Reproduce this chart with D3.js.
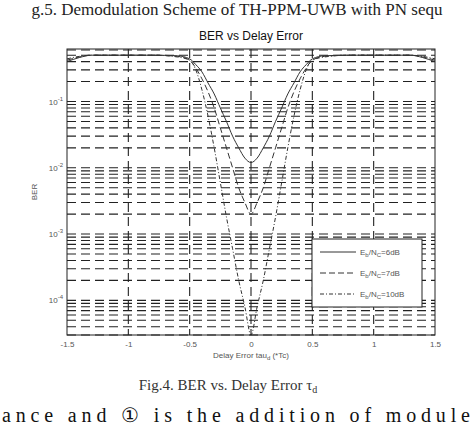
<!DOCTYPE html>
<html><head><meta charset="utf-8">
<script src="https://cdn.jsdelivr.net/npm/d3@7"></script>
<style>body{margin:0;background:#fff}svg{display:block}</style>
</head><body>
<svg id="c" width="474" height="428"></svg>
<script>
// delay error (x Tc) and BER for each Eb/Nc
const delay = [-1.5,-1.4,-1.3,-1.2,-1.0,-0.8,-0.6,-0.5,-0.45,-0.4,-0.35,-0.3,-0.25,-0.2,-0.15,-0.1,-0.05,0,0.05,0.1,0.15,0.2,0.25,0.3,0.35,0.4,0.45,0.5,0.6,0.8,1.0,1.2,1.3,1.4,1.5];
const ber6  = [0.40,0.46,0.5,0.5,0.5,0.5,0.49,0.44,0.36,0.28,0.19,0.13,0.08,0.05,0.03,0.02,0.014,0.012,0.014,0.02,0.03,0.05,0.08,0.13,0.19,0.28,0.36,0.44,0.49,0.5,0.5,0.5,0.5,0.46,0.40];
const ber7  = [0.42,0.47,0.5,0.5,0.5,0.5,0.48,0.42,0.32,0.22,0.14,0.08,0.04,0.02,0.01,0.005,0.003,0.002,0.003,0.005,0.01,0.02,0.04,0.08,0.14,0.22,0.32,0.42,0.48,0.5,0.5,0.5,0.5,0.47,0.42];
const ber10 = [0.44,0.48,0.5,0.5,0.5,0.5,0.47,0.42,0.3,0.15,0.06,0.02,0.006,0.0018,0.0006,0.0002,0.00008,0.00003,0.00008,0.0002,0.0006,0.0018,0.006,0.02,0.06,0.15,0.3,0.42,0.47,0.5,0.5,0.5,0.5,0.48,0.44];
const xTicks = [-1.5,-1,-0.5,0,0.5,1,1.5];
const xTickLabels = ["-1.5","-1","-0.5","0","0.5","1","1.5"];
const yDecades = [1e-1,1e-2,1e-3,1e-4];
const legendLabels = ["6dB","7dB","10dB"];
const dashes = [null,"6,3","4,2,1,2"];

const svg = d3.select("#c");
const L=67,R=435,T=49,B=335;
const x = d3.scaleLinear().domain([-1.5,1.5]).range([L,R]);
const y = d3.scaleLog().domain([3e-5,0.62]).range([B,T]);

svg.append("text").attr("x",237).attr("y",15).attr("text-anchor","middle")
  .attr("font-family","Liberation Serif").attr("font-size",17).attr("fill","#222")
  .text("g.5. Demodulation Scheme of TH-PPM-UWB with PN sequ");

svg.append("text").attr("x",251).attr("y",40).attr("text-anchor","middle")
  .attr("font-family","Liberation Sans").attr("font-size",12).attr("fill","#111").text("BER vs Delay Error");

const g = svg.append("g");
// grid
const minor = [];
for (let e=-5;e<=0;e++) for (let m=1;m<10;m++){const v=m*Math.pow(10,e); if(v>=3e-5&&v<=0.62) minor.push(v);}
g.selectAll(".hy").data(minor).join("line").attr("x1",L).attr("x2",R)
  .attr("y1",d=>y(d)).attr("y2",d=>y(d)).attr("stroke","#222").attr("stroke-width",1.1).attr("stroke-dasharray","9,5");
g.selectAll(".vx").data(xTicks.slice(1,-1)).join("line").attr("y1",T).attr("y2",B)
  .attr("x1",d=>x(d)).attr("x2",d=>x(d)).attr("stroke","#222").attr("stroke-width",1.1).attr("stroke-dasharray","9,5");

// curves
const line = d3.line().x((d,i)=>x(delay[i])).y(d=>y(d)).curve(d3.curveMonotoneX);
[ber6,ber7,ber10].forEach((s,k)=>{
  g.append("path").attr("d",line(s)).attr("fill","none").attr("stroke","#333").attr("stroke-width",1)
    .attr("stroke-dasharray",dashes[k]);
});

g.append("rect").attr("x",L).attr("y",T).attr("width",R-L).attr("height",B-T)
  .attr("fill","none").attr("stroke","#222").attr("stroke-width",1);

const xa = svg.append("g").attr("transform",`translate(0,${B})`)
  .call(d3.axisBottom(x).tickValues(xTicks).tickFormat((d,i)=>xTickLabels[i]).tickSize(0).tickPadding(6));
xa.select(".domain").remove();
xa.selectAll("text").attr("font-family","Liberation Sans").attr("font-size",8).attr("fill","#555");

const ya = svg.append("g").attr("transform",`translate(${L},0)`)
  .call(d3.axisLeft(y).tickValues(yDecades).tickFormat(()=>"").tickSize(0));
ya.select(".domain").remove();
yDecades.forEach(v=>{
  const t = svg.append("text").attr("x",L-4).attr("y",y(v)+3).attr("text-anchor","end")
    .attr("font-family","Liberation Sans").attr("font-size",8).attr("fill","#555");
  t.append("tspan").text("10");
  t.append("tspan").attr("dy",-4).attr("font-size",6).text(Math.round(Math.log10(v)));
});

svg.append("text").attr("transform","translate(37,192) rotate(-90)").attr("text-anchor","middle")
  .attr("font-family","Liberation Sans").attr("font-size",8).attr("fill","#555").text("BER");
const xl = svg.append("text").attr("x",251).attr("y",358).attr("text-anchor","middle")
  .attr("font-family","Liberation Sans").attr("font-size",8).attr("fill","#555");
xl.append("tspan").text("Delay Error tau");
xl.append("tspan").attr("dy",2).attr("font-size",6).text("d");
xl.append("tspan").attr("dy",-2).text(" (*Tc)");

// legend
const lg = svg.append("g").attr("transform","translate(312,239)");
lg.append("rect").attr("width",110).attr("height",68).attr("fill","#fff").attr("stroke","#222");
legendLabels.forEach((lab,i)=>{
  const yy = 13+i*21;
  lg.append("line").attr("x1",8).attr("x2",44).attr("y1",yy).attr("y2",yy)
    .attr("stroke","#333").attr("stroke-dasharray",dashes[i]);
  const t = lg.append("text").attr("x",48).attr("y",yy+3).attr("font-family","Liberation Sans")
    .attr("font-size",8).attr("fill","#555");
  t.append("tspan").text("E");
  t.append("tspan").attr("dy",2).attr("font-size",6).text("b");
  t.append("tspan").attr("dy",-2).text("/N");
  t.append("tspan").attr("dy",2).attr("font-size",6).text("C");
  t.append("tspan").attr("dy",-2).text("="+lab);
});

svg.append("text").attr("x",228).attr("y",390).attr("text-anchor","middle")
  .attr("font-family","Liberation Serif").attr("font-size",15).attr("fill","#333")
  .text("Fig.4. BER vs. Delay Error τ").append("tspan").attr("dy",3).attr("font-size",10).text("d");
svg.append("text").attr("x",2).attr("y",422).attr("textLength",468)
  .attr("font-family","Liberation Serif").attr("font-size",20).attr("fill","#111")
  .text("ance  and  ①  is  the  addition  of  module");
</script>
</body></html>
